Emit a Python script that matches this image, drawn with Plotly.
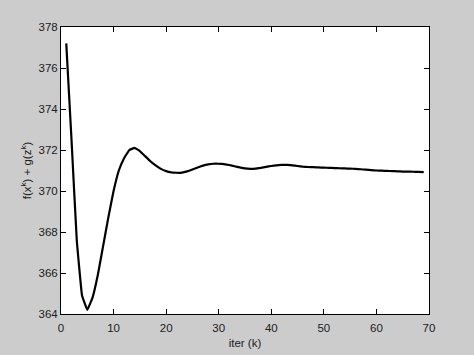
import plotly.graph_objects as go

iters = list(range(1, 70))
objective = [
    377.2, 372.5, 367.6, 364.9, 364.2, 364.8, 365.9, 367.3, 368.7, 370.0,
    371.0, 371.6, 372.0, 372.1, 371.95, 371.7, 371.45, 371.25, 371.08, 370.97,
    370.91, 370.89, 370.9, 370.96, 371.05, 371.15, 371.24, 371.3, 371.33, 371.33,
    371.31, 371.27, 371.21, 371.15, 371.1, 371.08, 371.09, 371.13, 371.18, 371.22,
    371.25, 371.27, 371.27, 371.25, 371.22, 371.19, 371.17, 371.16, 371.15, 371.14,
    371.13, 371.12, 371.11, 371.1, 371.09, 371.08, 371.06, 371.04, 371.02, 371.0,
    370.99, 370.98, 370.97, 370.96, 370.95, 370.95, 370.94, 370.93, 370.92,
]
x_ticks = [0, 10, 20, 30, 40, 50, 60, 70]
y_ticks = [364, 366, 368, 370, 372, 374, 376, 378]

fig = go.Figure()
fig.add_trace(go.Scatter(
    x=iters, y=objective, mode="lines",
    line=dict(color="black", width=2.2, shape="spline", smoothing=0.2),
    showlegend=False, hoverinfo="skip",
))

font = dict(family="Liberation Sans, Arial, sans-serif", size=11.5, color="#202020")
axis_common = dict(
    showgrid=False, zeroline=False, showline=True, linecolor="black", linewidth=1,
    mirror="ticks", ticks="inside", ticklen=5, tickcolor="black", tickwidth=1,
    tickfont=font, automargin=False,
)
fig.update_xaxes(range=[0, 70], tickvals=x_ticks, ticktext=[str(v) for v in x_ticks],
                 ticklabelstandoff=3,
                 title=dict(text="iter (k)", font=font, standoff=6), **axis_common)
fig.update_yaxes(range=[364, 378], tickvals=y_ticks, ticktext=[str(v) for v in y_ticks],
                 title=dict(text="f(x<sup>k</sup>) + g(z<sup>k</sup>)", font=font, standoff=4),
                 **axis_common)
fig.update_layout(
    width=474, height=355,
    margin=dict(l=61, r=45, t=27, b=41),
    paper_bgcolor="#cccccc", plot_bgcolor="white",
    font=font,
)
fig.write_html("out.html")
